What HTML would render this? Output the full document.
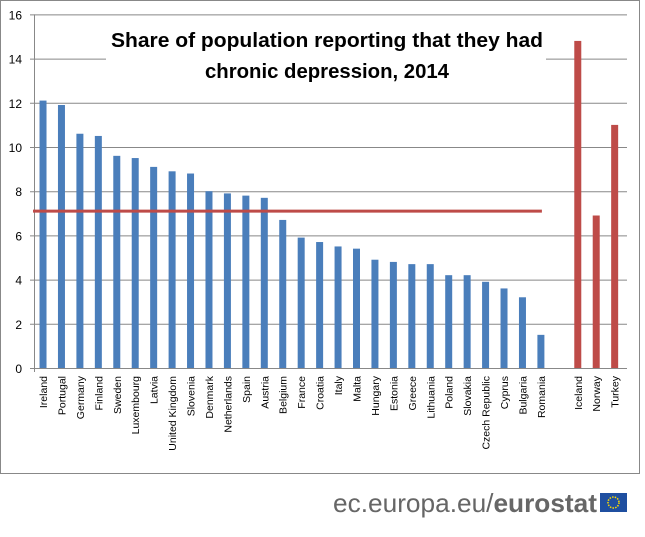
<!DOCTYPE html>
<html><head><meta charset="utf-8"><style>
body{margin:0;background:#fff;font-family:"Liberation Sans",Arial,sans-serif}
</style></head><body>
<svg width="645" height="532" xmlns="http://www.w3.org/2000/svg">
<rect x="0.5" y="0.5" width="639" height="473" fill="#fff" stroke="#888"/>
<g id="grid"></g>
<g id="bars"></g>
<g id="labels"></g>
<rect x="106" y="24" width="440" height="62" fill="#fff"/>
<text x="327" y="47" text-anchor="middle" font-size="20" font-weight="bold" textLength="432" lengthAdjust="spacingAndGlyphs">Share of population reporting that they had</text>
<text x="327" y="78" text-anchor="middle" font-size="20" font-weight="bold" textLength="244" lengthAdjust="spacingAndGlyphs">chronic depression, 2014</text>
<g id="avg"></g>
<text x="597" y="512" text-anchor="end" font-size="26" fill="#666" textLength="264" lengthAdjust="spacingAndGlyphs">ec.europa.eu/<tspan font-weight="bold">eurostat</tspan></text>
<rect x="600" y="493" width="27" height="19" fill="#1f4fa0"/>
<circle cx="613.5" cy="502.5" r="5.5" fill="none" stroke="#ffdd00" stroke-width="1.5" stroke-dasharray="1.5 1.2"/>
</svg>
<script>
const categories=["Ireland","Portugal","Germany","Finland","Sweden","Luxembourg","Latvia","United Kingdom","Slovenia","Denmark","Netherlands","Spain","Austria","Belgium","France","Croatia","Italy","Malta","Hungary","Estonia","Greece","Lithuania","Poland","Slovakia","Czech Republic","Cyprus","Bulgaria","Romania","","Iceland","Norway","Turkey"];
const values=[12.1,11.9,10.6,10.5,9.6,9.5,9.1,8.9,8.8,8.0,7.9,7.8,7.7,6.7,5.9,5.7,5.5,5.4,4.9,4.8,4.7,4.7,4.2,4.2,3.9,3.6,3.2,1.5,null,14.8,6.9,11.0];
const groups=["eu","eu","eu","eu","eu","eu","eu","eu","eu","eu","eu","eu","eu","eu","eu","eu","eu","eu","eu","eu","eu","eu","eu","eu","eu","eu","eu","eu","","other","other","other"];
const yTicks=[0,2,4,6,8,10,12,14,16];
const euAverage=7.1;
const NS="http://www.w3.org/2000/svg";
const x0=33.8,slot=18.44,yb=368,py=22.1;
const X=i=>x0+slot*(i+0.5), Y=v=>yb-v*py;
function mk(t,a,p){const e=document.createElementNS(NS,t);for(const k in a)e.setAttribute(k,a[k]);p.appendChild(e);return e;}
const grid=document.getElementById('grid'),bars=document.getElementById('bars'),labels=document.getElementById('labels');
yTicks.forEach(t=>{
 const l=mk('line',{x1:30,x2:627,y1:Y(t)+0.5,y2:Y(t)+0.5,stroke:'#888','stroke-width':1},grid);
 
 
 const tx=mk('text',{x:22,y:Y(t)+5,'text-anchor':'end','font-size':12},grid);tx.textContent=t;
 
 
});
const ax=mk('line',{x1:34.5,x2:34.5,y1:Y(16),y2:yb+4,stroke:'#888'},grid);


categories.forEach((c,i)=>{
 if(values[i]!=null){
  const r=mk('rect',{x:X(i)-3.5,y:Y(values[i]),width:7,height:values[i]*py,fill:groups[i]==='eu'?'#4a7ebb':'#be4b48'},bars);
  
  
 }
 if(c){
  const t=mk('text',{transform:`translate(${X(i)+4},${yb+8}) rotate(-90)`,'text-anchor':'end','font-size':10.5},labels);
  t.textContent=c;
  
  
 }
});
const a=mk('line',{x1:X(0)-10,x2:X(27)+1,y1:Y(euAverage),y2:Y(euAverage),stroke:'#be4b48','stroke-width':3},document.getElementById('avg'));


</script>
</body></html>
